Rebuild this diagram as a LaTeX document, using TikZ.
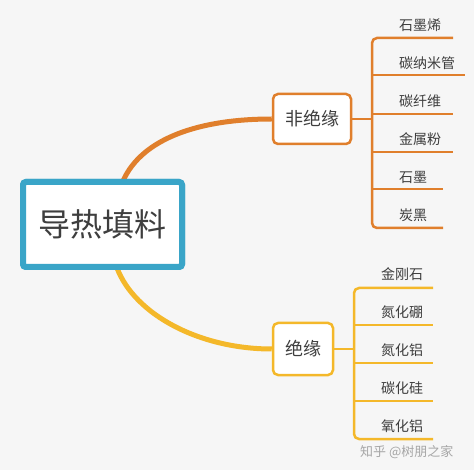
\documentclass[tikz,border=0pt]{standalone}
\usepackage{fontspec}
\setmainfont{Noto Sans CJK SC}
\definecolor{bgc}{HTML}{F6F6F6}
\definecolor{bluec}{HTML}{3AA5C8}
\definecolor{orangec}{HTML}{E07F2C}
\definecolor{yellowc}{HTML}{F4B82A}
\definecolor{txtc}{HTML}{3E3E3E}
\begin{document}
\begin{tikzpicture}[x=1pt,y=-1pt,
  leaf/.style={anchor=west,inner sep=0pt,text=txtc,font=\fontsize{14}{14}\selectfont},
  mid/.style={draw,line width=2.5pt,rounded corners=5pt,fill=white,text=txtc,inner sep=0pt,font=\fontsize{18}{18}\selectfont},
  branch/.style={line width=2.5pt,rounded corners=5pt},
  curve/.style={line width=5pt}]
\fill[bgc] (0,0) rectangle (474,470);
\useasboundingbox (0,0) rectangle (474,470);
% central
\node[draw=bluec,line width=6pt,rounded corners=3pt,fill=white,minimum width=159pt,minimum height=85pt,inner sep=0pt,text=txtc,font=\fontsize{32}{32}\selectfont] (root) at (102.5,224.5) {导热填料};
% mid nodes
\node[mid,draw=orangec,minimum width=78pt,minimum height=50pt] (n1) at (312,119) {非绝缘};
\node[mid,draw=yellowc,minimum width=60pt,minimum height=52pt] (n2) at (303,349) {绝缘};
% curves
\coordinate (r1) at (123,181);
\coordinate (r2) at (117,268);
\draw[curve,orangec] (r1) .. controls (142,138) and (200,119) .. (n1.west);
\draw[curve,yellowc] (r2) .. controls (135,315) and (200,349) .. (n2.west);
\node[draw=bluec,line width=6pt,rounded corners=3pt,fill=white,minimum width=159pt,minimum height=85pt,inner sep=0pt,text=txtc,font=\fontsize{32}{32}\selectfont] at (root) {导热填料};
% orange branch
\coordinate (h1) at (372,119);
\coordinate (a1) at (453,38);
\coordinate (a2) at (465,75);
\coordinate (a3) at (453,114);
\coordinate (a4) at (453,152);
\coordinate (a5) at (443,189);
\coordinate (a6) at (443,228);
\draw[branch,orangec] (n1.east) -- (h1);
\draw[branch,orangec] (a1) -- (372,38) -- (372,228) -- (a6);
\foreach \i in {2,3,4,5} \draw[branch,orangec] (372,0|-a\i) -- (a\i);
\node[leaf] (t1) at (399,25) {石墨烯};
\node[leaf] (t2) at (399,63) {碳纳米管};
\node[leaf] (t3) at (399,101) {碳纤维};
\node[leaf] (t4) at (399,139) {金属粉};
\node[leaf] (t5) at (399,177) {石墨};
\node[leaf] (t6) at (399,215) {炭黑};
% yellow branch
\coordinate (h2) at (354,349);
\coordinate (b1) at (433,288);
\coordinate (b2) at (433,325);
\coordinate (b3) at (433,363);
\coordinate (b4) at (433,401);
\coordinate (b5) at (433,439);
\draw[branch,yellowc] (n2.east) -- (h2);
\draw[branch,yellowc] (b1) -- (354,288) -- (354,439) -- (b5);
\foreach \i in {2,3,4} \draw[branch,yellowc] (354,0|-b\i) -- (b\i);
\node[leaf] (s1) at (381,274) {金刚石};
\node[leaf] (s2) at (381,312) {氮化硼};
\node[leaf] (s3) at (381,350) {氮化铝};
\node[leaf] (s4) at (381,388) {碳化硅};
\node[leaf] (s5) at (381,426) {氧化铝};
% watermark
\node[anchor=west,inner sep=0pt,text=black!35,font=\fontsize{13}{13}\selectfont] (wm) at (360,452) {知乎 @树朋之家};
\end{tikzpicture}
\end{document}
